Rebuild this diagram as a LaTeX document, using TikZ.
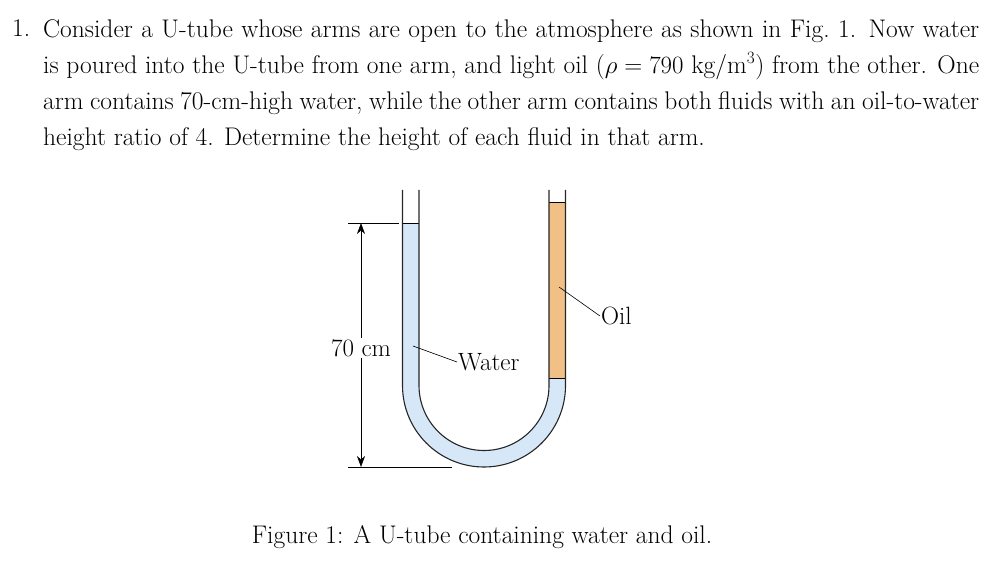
\documentclass[tikz,border=0pt]{standalone}
\usetikzlibrary{arrows.meta}
\definecolor{water}{RGB}{214,232,248}
\definecolor{oil}{RGB}{240,192,135}
\begin{document}
\begin{tikzpicture}[x=1pt,y=1pt,
  wall/.style={line width=1.1pt,black!85},
  lbl/.style={font=\fontsize{25}{28}\selectfont,inner sep=1pt},
  body/.style={font=\fontsize{25.5}{36}\selectfont,anchor=north west,inner sep=0pt,align=justify}]
\useasboundingbox (0,0) rectangle (1006,-572);
\node[body,anchor=north west] (num) at (12,-19) {1.};
\node[body,text width=936pt] (txt) at (43,-19) {Consider a U-tube whose arms are open to the atmosphere as shown in Fig.~1. Now water\linebreak is poured into the U-tube from one arm, and light oil ($\rho = 790$~kg/m$^3$) from the other. One\linebreak arm contains 70-cm-high water, while the other arm contains both fluids with an oil-to-water\linebreak height ratio of 4. Determine the height of each fluid in that arm.};
% fluids
\fill[water] (402.5,-223) -- (402.5,-385.5) arc(180:360:81.5) -- (565.5,-378) -- (549,-378) -- (549,-385.5) arc(360:180:65) -- (419,-223) -- cycle;
\fill[oil] (549,-202) rectangle (565.5,-378);
\draw[line width=0.8pt] (402.5,-223) -- (419,-223) (549,-202) -- (565.5,-202) (549,-378) -- (565.5,-378);
% walls
\draw[wall] (402.5,-190) -- (402.5,-385.5) arc(180:360:81.5) -- (565.5,-190);
\draw[wall] (419,-190) -- (419,-385.5) arc(180:360:65) -- (549,-190);
% dimension
\draw[line width=0.6pt] (348,-223) -- (399,-223);
\draw[line width=0.6pt] (348,-467) -- (452,-467);
\coordinate (dt) at (361,-223);
\coordinate (db) at (361,-467);
\node[lbl,fill=white] (dim) at (361,-348) {70 cm};
\draw[-{Stealth[length=11pt,width=8pt]},line width=0.6pt] (dim) -- (dt);
\draw[-{Stealth[length=11pt,width=8pt]},line width=0.6pt] (dim) -- (db);
% labels
\node[lbl,anchor=west] (w) at (457,-362) {Water};
\coordinate (wp) at (413,-346);
\draw[line width=0.6pt] (wp) -- (w.west);
\node[lbl,anchor=west] (o) at (600,-316) {Oil};
\coordinate (op) at (559,-287);
\draw[line width=0.6pt] (op) -- (o.west);
\node[font=\fontsize{25.5}{28}\selectfont] (cap) at (482,-537) {Figure 1: A U-tube containing water and oil.};
\end{tikzpicture}
\end{document}
